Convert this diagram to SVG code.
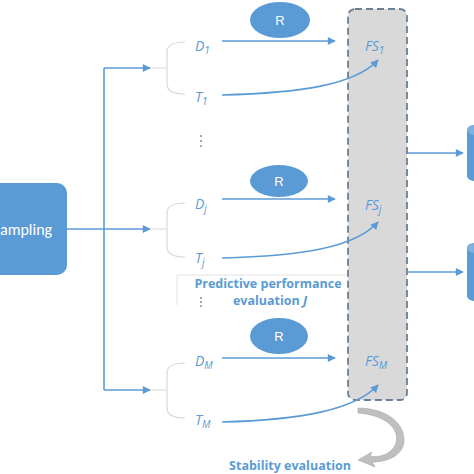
<svg xmlns="http://www.w3.org/2000/svg" width="474" height="474" viewBox="0 0 474 474">
<defs>
<marker id="ah" viewBox="0 0 10 10" refX="9" refY="5" markerWidth="10" markerHeight="8" markerUnits="userSpaceOnUse" orient="auto">
<path d="M0,0 L10,5 L0,10 z" fill="#5B9BD5"/>
</marker>
<style>
.ln{fill:none;stroke:#5B9BD5;stroke-width:1.6}
.br{fill:none;stroke:#D9D9D9;stroke-width:1.2}
.ell{fill:#5B9BD5}
.rt{font-family:"Liberation Sans",Arial,sans-serif;font-size:13px;fill:#ffffff;text-anchor:middle}
.lab{font-family:"Open Sans","Liberation Sans",sans-serif;font-size:14px;font-style:italic;fill:#5B9BD5}
.sub{font-size:10px}
.bold{font-family:"Open Sans","Liberation Sans",sans-serif;font-size:12.5px;font-weight:bold;fill:#5B9BD5;text-anchor:middle}
.dots{fill:#7F7F7F}
</style>
</defs>
<rect width="474" height="474" fill="#ffffff"/>

<g id="sampling">
<rect x="-20" y="183" width="87" height="92" rx="10" fill="#5B9BD5"/>
<text x="0" y="235" font-family="Calibri,'Liberation Sans',sans-serif" font-size="16" fill="#ffffff">ampling</text>
</g>

<g id="fsbox">
<rect x="348" y="9" width="59" height="391" rx="7" fill="#D9D9D9" stroke="#6C7F92" stroke-width="1.8" stroke-dasharray="7,4"/>
</g>

<g id="connectors">
<path class="ln" d="M67,229 H104"/>
<path class="ln" d="M104,68 V390"/>
<path class="ln" d="M104,68 H150" marker-end="url(#ah)"/>
<path class="ln" d="M104,229 H150" marker-end="url(#ah)"/>
<path class="ln" d="M104,390 H150" marker-end="url(#ah)"/>
<path class="br" d="M150,68 H167 M185,42 Q167,42 167,52 V84 Q167,94 185,94"/>
<path class="br" d="M150,229 H167 M185,203 Q167,203 167,213 V247 Q167,257 185,257"/>
<path class="br" d="M150,390 H167 M185,363 Q167,363 167,373 V408 Q167,418 185,418"/>
<path class="ln" d="M222,41 H335" marker-end="url(#ah)"/>
<path class="ln" d="M222,199 H335" marker-end="url(#ah)"/>
<path class="ln" d="M222,358 H335" marker-end="url(#ah)"/>
<path class="ln" d="M222,95 C300,93 355,85 378,60" marker-end="url(#ah)"/>
<path class="ln" d="M222,258 C300,256 355,248 378,222" marker-end="url(#ah)"/>
<path class="ln" d="M222,422 C300,420 355,410 378,385" marker-end="url(#ah)"/>
<path class="ln" d="M407,153 H463" marker-end="url(#ah)"/>
<path class="ln" d="M407,272 H463" marker-end="url(#ah)"/>
</g>

<g id="r1"><ellipse class="ell" cx="280" cy="20" rx="30" ry="18"/><text class="rt" x="280" y="25">R</text></g>
<g id="r2"><ellipse class="ell" cx="279" cy="181" rx="29" ry="16"/><text class="rt" x="279" y="186">R</text></g>
<g id="r3"><ellipse class="ell" cx="279" cy="336" rx="29" ry="18"/><text class="rt" x="279" y="341">R</text></g>

<g id="d1"><text class="lab" x="195" y="51">D<tspan class="sub" dy="3">1</tspan></text></g>
<g id="t1"><text class="lab" x="195" y="102">T<tspan class="sub" dy="3">1</tspan></text></g>
<g id="dj"><text class="lab" x="195" y="209">D<tspan class="sub" dy="3">j</tspan></text></g>
<g id="tj"><text class="lab" x="195" y="263">T<tspan class="sub" dy="3">j</tspan></text></g>
<g id="dm"><text class="lab" x="195" y="366">D<tspan class="sub" dy="3">M</tspan></text></g>
<g id="tm"><text class="lab" x="195" y="425">T<tspan class="sub" dy="3">M</tspan></text></g>

<g id="fs1"><text class="lab" x="365" y="51">FS<tspan class="sub" dy="3">1</tspan></text></g>
<g id="fsj"><text class="lab" x="365" y="210">FS<tspan class="sub" dy="3">j</tspan></text></g>
<g id="fsm"><text class="lab" x="365" y="366">FS<tspan class="sub" dy="3">M</tspan></text></g>

<g id="dots1"><circle class="dots" cx="201" cy="136" r="0.9"/><circle class="dots" cx="201" cy="141" r="0.9"/><circle class="dots" cx="201" cy="146" r="0.9"/></g>
<g id="dots2"><circle class="dots" cx="201" cy="298" r="0.9"/><circle class="dots" cx="201" cy="302" r="0.9"/><circle class="dots" cx="201" cy="306" r="0.9"/></g>

<g id="predictive">
<path d="M347,275 H177 V305" fill="none" stroke="#E3E3E3" stroke-width="1"/>
<text class="bold" x="268" y="288">Predictive performance</text>
<text class="bold" x="270" y="305">evaluation  <tspan font-style="italic">J</tspan></text>
</g>

<g id="cyl1">
<path d="M467,130 A8,5 0 0 1 483,130 V176 A8,5 0 0 1 467,176 Z" fill="#5B9BD5"/>
<ellipse cx="475" cy="130" rx="8" ry="5" fill="#7FB0DF"/>
</g>
<g id="cyl2">
<path d="M467,248 A8,5 0 0 1 483,248 V296 A8,5 0 0 1 467,296 Z" fill="#5B9BD5"/>
<ellipse cx="475" cy="248" rx="8" ry="5" fill="#7FB0DF"/>
</g>

<g id="stability">
<path d="M358,413 C385,415 400,428 396,443 C392,455 378,458 370,456 L372,452 L358,460 L375,467 L372,462 C388,462 404,455 404,440 C404,422 385,408 358,408 Z" fill="#BFBFBF" stroke="#A6A6A6" stroke-width="0.6"/>
<text class="bold" x="290" y="470">Stability evaluation</text>
</g>
</svg>
